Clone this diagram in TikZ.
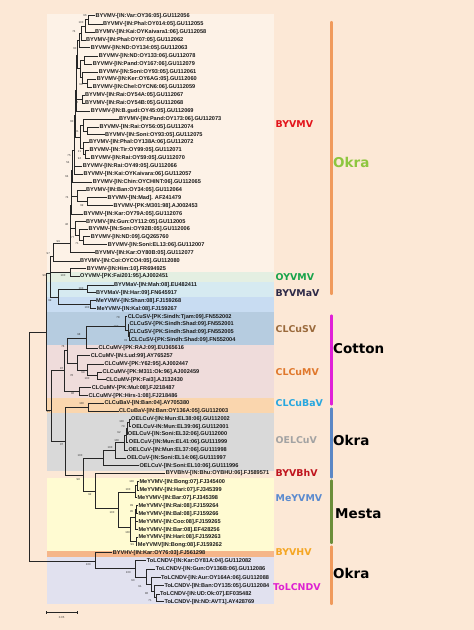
\documentclass[tikz,border=0pt]{standalone}
\usepackage{fontspec}
\setmainfont{Liberation Sans}
\newfontfamily\dvs{DejaVu Sans}
\newcommand\lfnt{\fontsize{5.6}{6}\selectfont\bfseries}
\newcommand\bsfnt{\fontsize{2.8}{3}\selectfont}
\newcommand\clfnt{\dvs\bfseries\fontsize{9.4}{10}\selectfont}
\newcommand\hofnt{\dvs\bfseries\fontsize{13.5}{14}\selectfont}
\definecolor{bgc}{HTML}{FCE8D6}
\definecolor{panel}{HTML}{FDF2E7}
\definecolor{oyb}{HTML}{E4EFE2}
\definecolor{mavb}{HTML}{D6EAF1}
\definecolor{meb}{HTML}{C8DCF2}
\definecolor{svb}{HTML}{B6CCE0}
\definecolor{mvb}{HTML}{EFDCDB}
\definecolor{bab}{HTML}{FAD6AE}
\definecolor{oeb}{HTML}{D9D9D9}
\definecolor{yeb}{HTML}{FFFBD2}
\definecolor{hvb}{HTML}{F5B68A}
\definecolor{tob}{HTML}{E1E1EF}
\definecolor{cBYVMV}{HTML}{E3141B}
\definecolor{cOYVMV}{HTML}{17A34A}
\definecolor{cBYVMaV}{HTML}{2E2A48}
\definecolor{cCLCuSV}{HTML}{9A6A3C}
\definecolor{cCLCuMV}{HTML}{E0782C}
\definecolor{cCLCuBaV}{HTML}{27A7DF}
\definecolor{cOELCuV}{HTML}{A3A3A3}
\definecolor{cBYVBhV}{HTML}{C0141E}
\definecolor{cMeYVMV}{HTML}{5A8ACF}
\definecolor{cBYVHV}{HTML}{F5A623}
\definecolor{cToLCNDV}{HTML}{DD22D2}
\definecolor{okragreen}{HTML}{8DC63F}
\definecolor{barorange}{HTML}{F09A5C}
\definecolor{barmag}{HTML}{E020D8}
\definecolor{barblue}{HTML}{5B87C5}
\definecolor{bargreen}{HTML}{6B8E3A}
\begin{document}
\begin{tikzpicture}[x=1pt,y=-1pt,
  leaf/.style={anchor=west,inner sep=0.5pt,font=\lfnt,text=black!90},
  br/.style={line width=0.9pt,draw=black!85},
  bs/.style={font=\bsfnt,inner sep=0pt,text=black!80},
  clab/.style={anchor=west,font=\clfnt,inner sep=0pt},
  host/.style={anchor=west,font=\hofnt,inner sep=0pt},
  hbar/.style={line width=2.3pt,line cap=round}]
\useasboundingbox (0,0) rectangle (474,630);
\fill[bgc] (0,0) rectangle (474,630);
% panels / bands
\fill[panel] (47,14) rectangle (274,272);
\fill[oyb] (47,272) rectangle (274,282);
\fill[mavb] (47,282) rectangle (274,297);
\fill[meb] (47,297) rectangle (274,312);
\fill[svb] (47,312) rectangle (274,345);
\fill[mvb] (47,345) rectangle (274,398);
\fill[bab] (47,398) rectangle (274,413);
\fill[oeb] (47,413) rectangle (274,471);
\fill[yeb] (47,477.5) rectangle (274,551);
\fill[hvb] (47,551) rectangle (274,556.5);
\fill[tob] (47,556.5) rectangle (274,604);
% leaves
\foreach \n/\x/\y/\lab in {
l1/95/15.7/BYVMV-[IN:Var:OY36:05].GU112056,
l2/102.5/24/BYVMV-[IN:Phal:OY014:05].GU112055,
l3/94.5/32.3/BYVMV-[IN:Kai:OYKaivara1:06].GU112058,
l4/85.5/40.3/BYVMV-[IN:Phal:OY07:05].GU112062,
l5/90.2/47.7/BYVMV-[IN:ND:OY134:05].GU112063,
l6/98.2/56/BYVMV-[IN:ND:OY133:06].GU112078,
l7/92.2/64/BYVMV-[IN:Pand:OY167:06].GU112079,
l8/98.2/72/BYVMV-[IN:Soni:OY93:05].GU112061,
l9/96.2/79/BYVMV-[IN:Ker:OY6AG:05].GU112060,
l10/92.2/87/BYVMV-[IN:Chel:OYCN6:06].GU112059,
l11/84.5/95/BYVMV-[IN:Rai:OY54A:05].GU112067,
l12/84.5/103.3/BYVMV-[IN:Rai:OY54B:05].GU112068,
l13/90.2/111/BYVMV-[IN:B.gudi:OY45:05].GU112069,
l14/118.5/119/BYVMV-[IN:Pand:OY173:06].GU112073,
l15/98.8/127/BYVMV-[IN:Rai:OY56:05].GU112074,
l16/104.5/134.7/BYVMV-[IN:Soni:OY93:05].GU112075,
l17/88.5/142/BYVMV-[IN:Phal:OY138A:06].GU112072,
l18/88.8/150/BYVMV-[IN:Tir:OY99:05].GU112071,
l19/90.2/158/BYVMV-[IN:Rai:OY59:05].GU112070,
l20/82.2/166/BYVMV-[IN:Rai:OY49:05].GU112066,
l21/82.8/174/BYVMV-[IN:Kai:OYKaivara:06].GU112057,
l22/92.2/182.3/BYVMV-[IN:Chin:OYCHINT:06].GU112065,
l23/85.5/190/BYVMV-[IN:Ban:OY34:05].GU112064,
l24/106.8/197.7/BYVMV-[IN:Mad]. AF241479,
l25/112.8/205.7/BYVMV-[PK:M301:98].AJ002453,
l26/82.8/214/BYVMV-[IN:Kar:OY79A:05].GU112076,
l27/85.5/221.7/BYVMV-[IN:Gun:OY112:05].GU112005,
l28/87.8/229.3/BYVMV-[IN:Soni:OY92B:05].GU112006,
l29/90.2/236.7/BYVMV-[IN:ND:09].GQ265760,
l30/107.2/244.7/BYVMV-[IN:Soni:EL13:06].GU112007,
l31/94.5/252.7/BYVMV-[IN:Kar:OY80B:05].GU112077,
l32/79.5/261/BYVMV-[IN:Coi:OYCO4:05].GU112080,
l33/86.2/268.7/BYVMV-[IN:Him:10].FR694925,
l34/79.5/276.3/OYVMV-[PK:Fai201:95].AJ002451,
l35/113.5/285/BYVMaV-[IN:Mah:08].EU482411,
l36/95.5/292.7/BYVMaV-[IN:Har:09].FN645917,
l37/95.5/300.7/MeYVMV-[IN:Shan:08].FJ159268,
l38/96.2/308.7/MeYVMV-[IN:Kal:08].FJ159267,
l39/127.2/316.7/CLCuSV-[PK:Sindh:Tjam:09].FN552002,
l40/128.8/324.3/CLCuSV-[PK:Sindh:Shad:09].FN552001,
l41/128.8/332.3/CLCuSV-[PK:Sindh:Shad:09].FN552005,
l42/130.5/340/CLCuSV-[PK:Sindh:Shad:09].FN552004,
l43/97.8/348.3/CLCuMV-[PK:RAJ:09].EU365616,
l44/90.2/355.7/CLCuMV-[IN:Lud:99].AY765257,
l45/103.8/364/CLCuMV-[PK:Y62:95].AJ002447,
l46/101.8/372/CLCuMV-[PK:M311:Ok:96].AJ002459,
l47/105.5/379.7/CLCuMV-[PK:Fai3].AJ132430,
l48/91.2/387.7/CLCuMV-[PK:Mul:08].FJ218487,
l49/87.8/395.7/CLCuMV-[PK:Hirs-1:08].FJ218486,
l50/103.8/403.3/CLCuBaV-[IN:Ban:04].AY705380,
l51/118.5/411/CLCuBaV-[IN:Ban:OY136A:05].GU112003,
l52/130.5/419/OELCuV-[IN:Mun:EL38:06].GU112002,
l53/131.2/426.7/OELCuV-IN:Mun:EL39:06].GU112001,
l54/127.2/434.3/OELCuV-[IN:Soni:EL32:06].GU112000,
l55/128.2/442.3/OELCuV-[IN:Mun:EL41:06].GU111999,
l56/127.8/450/OELCuV-[IN:Mun:EL37:06].GU111998,
l57/126.2/458/OELCuV-[IN:Soni:EL14:06].GU111997,
l58/138.8/465.7/OELCuV-[IN:Soni:EL10:06].GU111996,
l59/165.2/473.3/BYVBhV-[IN:Bhu:OYBHU:06].FJ589571,
l60/138.8/481.7/MeYVMV-[IN:Bong:07].FJ345400,
l61/138.8/490/MeYVMV-[IN:Hari:07].FJ345399,
l62/136.8/497.7/MeYVMV-[IN:Bar:07].FJ345398,
l63/137.8/505.7/MeYVMV-[IN:Rai:08].FJ159264,
l64/137.8/513.7/MeYVMV-[IN:Bal:08].FJ159266,
l65/137.8/521.7/MeYVMV-[IN:Coo:08].FJ159265,
l66/137.8/529.7/MeYVMV-[IN:Bar:08].EF428256,
l67/137.8/537.3/MeYVMV-[IN:Hari:08].FJ159263,
l68/137.2/545/MeYVMV[IN:Bong:08].FJ159262,
l69/112.2/552.7/BYVHV-[IN:Kar:OY76:03].FJ561298,
l70/146.2/560.7/ToLCNDV-[IN:Kar:OY81A:04].GU112082,
l71/155.2/569/ToLCNDV-[IN:Gun:OY136B:06].GU112086,
l72/160.5/577.7/ToLCNDV-[IN:Aur:OY164A:06].GU112088,
l73/163.8/585.7/ToLCNDV-[IN:Ban:OY135:05].GU112084,
l74/159.5/594/ToLCNDV-[IN:UD:Ok:07].EF035482,
l75/163.8/601.7/ToLCNDV-[IN:ND:AVT1].AY428769}
  \node[leaf] (\n) at (\x,\y) {\lab};
% internal nodes
\foreach \n/\x/\y in {nab/88/19.8, nabc/85/26, nA/81/33, nA2/79/40, nB/84/60,
  nCa/87/83, nC/82/77.5, nBC/80/68, Ka/77.5/55, nD/82/99, Kb/76/90,
  nEb/87/131, nEa/83/125, nFa/85.5/154, nF/83/148, nEF/80/137, Kc/75/115,
  Kd/74/150, Ke/72.5/170, nGa/87/201.7, nG/77/196, Kf/71/205,
  nHc/83/240.7, nHb/79.5/235, nH/75/228, Y/70/243, X/53/256, nHO/70/272.5,
  nBM/87/289, nMz/90/304.7, V/58.3/297, OKc/50/273, U/46.7/332.7,
  nSa/129.8/336.2, nSb/128/330, nSV/125.5/326, S/86/338,
  nMa/97/375.8, nMb/87/370, nMc/77/363, nSM/67.5/350, nMH/79/391.7, nCM/64.5/370,
  nBa/88.3/407, nOa/129.5/422.8, nOb/127.5/428.5, nOc/126/435, nOd/124/442, nOe/115/450,
  nOEL/103.3/458, Q/95/491.7, P/83.3/475, R/65/441.7, C/51.7/410,
  nMea/137.5/485.8, nMeb/135.5/492, nMec/136.5/509.7, nMed/135/517, nMee/136/541,
  nMef/130/527, nMe/118.3/508,
  nTe/156/597.8, nTd/154/591.8, nTc/151.5/584.8, nTb/146.5/577, nTa/135/568.8,
  T/95/561.7, root/29.3/447}
  \coordinate (\n) at (\x,\y);
% branches
\foreach \p/\c in {nab/l1, nab/l2, nabc/nab, nabc/l3, nA/nabc, nA/l4, nA2/nA, nA2/l5,
  nB/l6, nB/l7, nCa/l9, nCa/l10, nC/l8, nC/nCa, nBC/nB, nBC/nC, Ka/nA2, Ka/nBC,
  nD/l11, nD/l12, Kb/Ka, Kb/nD, Kb/l13, nEb/l15, nEb/l16, nEa/l14, nEa/nEb,
  nFa/l18, nFa/l19, nF/l17, nF/nFa, nEF/nEa, nEF/nF, Kc/Kb, Kc/nEF,
  Kd/Kc, Kd/l20, Kd/l21, Ke/Kd, Ke/l22, nGa/l24, nGa/l25, nG/l23, nG/nGa,
  Kf/Ke, Kf/nG, Kf/l26, nHc/l29, nHc/l30, nHb/l28, nHb/nHc, nH/l27, nH/nHb,
  Y/Kf, Y/nH, Y/l31, X/Y, X/l32, nHO/l33, nHO/l34,
  nBM/l35, nBM/l36, nMz/l37, nMz/l38, V/nBM, V/nMz, OKc/X, OKc/nHO, OKc/V, U/OKc, U/C,
  nSa/l41, nSa/l42, nSb/l40, nSb/nSa, nSV/l39, nSV/nSb, S/nSV, S/l43,
  nMa/l46, nMa/l47, nMb/l45, nMb/nMa, nMc/l44, nMc/nMb, nSM/S, nSM/nMc,
  nMH/l48, nMH/l49, nCM/nSM, nCM/nMH, nBa/l50, nBa/l51,
  nOa/l52, nOa/l53, nOb/nOa, nOb/l54, nOc/nOb, nOc/l55, nOd/nOc, nOd/l56,
  nOe/nOd, nOe/l57, nOEL/nOe, nOEL/l58,
  nMea/l60, nMea/l61, nMeb/nMea, nMeb/l62, nMec/l63, nMec/l64,
  nMed/nMec, nMed/l65, nMed/l66, nMee/l67, nMee/l68, nMef/nMed, nMef/nMee,
  nMe/nMeb, nMe/nMef, Q/l59, Q/nMe, P/nOEL, P/Q, R/nBa, R/P, C/nCM, C/R,
  nTe/l74, nTe/l75, nTd/l73, nTd/nTe, nTc/l72, nTc/nTd, nTb/l71, nTb/nTc,
  nTa/l70, nTa/nTb, T/l69, T/nTa, root/U, root/T}
  \draw[br] (\p) |- (\c.west);
% bootstrap values
\foreach \x/\y/\v [count=\i] in {85/15.5/96, 81/23/100, 74/32/74, 75/49/60, 81/85/99,
  76.7/102.7/94, 77/132/81, 72/122/60, 69/156/75, 79.5/152/21, 79.5/158.5/94, 68/163/54,
  67/177/64, 67/198/74, 82/206/99, 66.7/225/46, 72.7/238/77, 77/243.5/71, 58.3/241.7/99,
  48.3/254/97, 63/276/100, 44.3/275.7/96, 81/289/100, 87/308/100, 50/300.7/99,
  116/326.7/100, 118/318/78, 126/341/81, 79/335/98, 63/346.7/76, 71.7/376/78, 83/373/99,
  87/379/100, 72.7/393.3/96, 61.7/369/97, 81.7/404/100, 48.3/412/99,
  121.7/421.7/100, 123/427/79, 119/432.7/92, 116.7/440.7/100, 110/447.7/100, 80/455.7/100,
  61.7/445/97, 78.3/480/98, 131.7/481.7/100, 128/490/100, 90/495/92, 112/513/100,
  131.7/505.7/99, 131.7/512/95, 127.7/532.3/100, 132.3/544.3/99, 88.3/565/100,
  128.3/572.7/100, 133/580.7/90, 140/587/91, 146.7/594/86, 150/600.7/71}
  \node[bs] (bs\i) at (\x,\y) {\v};
% scale bar
\coordinate (sbl) at (46,612.3);
\coordinate (sbr) at (77.3,612.3);
\draw[br] (sbl) -- (sbr);
\draw[br] ([yshift=-1.5pt]sbl) -- ([yshift=1.5pt]sbl);
\draw[br] ([yshift=-1.5pt]sbr) -- ([yshift=1.5pt]sbr);
\node[bs] (sbt) at (61.6,617.5) {0.05};
% clade labels
\node[clab,text=cBYVMV] (tBYVMV) at (275.5,124) {BYVMV};
\node[clab,text=cOYVMV] (tOYVMV) at (275.5,277) {OYVMV};
\node[clab,text=cBYVMaV] (tBYVMaV) at (275.5,293) {BYVMaV};
\node[clab,text=cCLCuSV] (tCLCuSV) at (275.5,329) {CLCuSV};
\node[clab,text=cCLCuMV] (tCLCuMV) at (275.5,372) {CLCuMV};
\node[clab,text=cCLCuBaV] (tCLCuBaV) at (275.5,403) {CLCuBaV};
\node[clab,text=cOELCuV] (tOELCuV) at (275.5,440) {OELCuV};
\node[clab,text=cBYVBhV] (tBYVBhV) at (275.5,473) {BYVBhV};
\node[clab,text=cMeYVMV] (tMeYVMV) at (275.5,498) {MeYVMV};
\node[clab,text=cBYVHV] (tBYVHV) at (275.5,552) {BYVHV};
\node[clab,text=cToLCNDV] (tToLCNDV) at (273,587) {ToLCNDV};
% host bars
\coordinate (b1t) at (331.5,22); \coordinate (b1b) at (331.5,294);
\coordinate (b2t) at (331.5,315.5); \coordinate (b2b) at (331.5,404.5);
\coordinate (b3t) at (331.5,408.5); \coordinate (b3b) at (331.5,477.5);
\coordinate (b4t) at (331.5,480.5); \coordinate (b4b) at (331.5,543);
\coordinate (b5t) at (331.5,546.5); \coordinate (b5b) at (331.5,604);
\draw[hbar,barorange] (b1t) -- (b1b);
\draw[hbar,barmag] (b2t) -- (b2b);
\draw[hbar,barblue] (b3t) -- (b3b);
\draw[hbar,bargreen] (b4t) -- (b4b);
\draw[hbar,barorange] (b5t) -- (b5b);
\node[host,text=okragreen] (h1) at (333,162) {Okra};
\node[host] (h2) at (333,349) {Cotton};
\node[host] (h3) at (333,440) {Okra};
\node[host] (h4) at (335,514) {Mesta};
\node[host] (h5) at (333,573) {Okra};
\end{tikzpicture}
\end{document}
